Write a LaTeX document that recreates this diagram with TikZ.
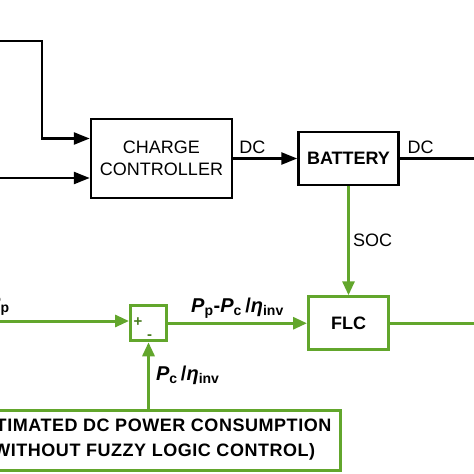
\documentclass[tikz,border=0pt]{standalone}
\usepackage{fontspec}
\setmainfont{Liberation Sans}
\usetikzlibrary{arrows.meta,positioning}
\definecolor{flcgreen}{RGB}{98,166,44}

\begin{document}
\begin{tikzpicture}[
	x=1pt, y=-1pt,
	blackbox/.style={
		rectangle,
		draw=black,
		line width=2.5pt,
		inner sep=0pt,
		align=center,
		font=\fontsize{18}{22}\selectfont},
	greenbox/.style={
		rectangle,
		draw=flcgreen,
		line width=3pt,
		inner sep=0pt,
		align=center,
		font=\fontsize{18}{25}\selectfont},
	blackarrow/.style={line width=2.5pt,-{Triangle[length=16pt,width=12pt]}},
	greenline/.style={draw=flcgreen,line width=3pt},
	greenarrow/.style={greenline,-{Triangle[length=14pt,width=12pt]}},
	lbl/.style={font=\fontsize{18}{20}\selectfont, inner sep=4pt},
	mathlbl/.style={font=\fontsize{20}{20}\selectfont\bfseries, inner sep=3pt},
	signlbl/.style={font=\fontsize{15}{15}\selectfont\bfseries, text=flcgreen!75!black, inner sep=0pt}
	]
	\useasboundingbox (0,0) rectangle (474,474);

	% upper chain
	\node[blackbox, minimum width=141pt, minimum height=79pt] (cc) at (161.5,158.5) {CHARGE\\CONTROLLER};
	\node[blackbox, font=\fontsize{18}{22}\selectfont\bfseries, minimum width=100pt, minimum height=53pt, right=64pt of cc] (bat) {BATTERY};

	% lower chain
	\node[greenbox, font=\fontsize{18}{22}\selectfont\bfseries, minimum width=80pt, minimum height=53pt, below=109pt of bat] (flc) {FLC};
	\node[greenbox, minimum width=36pt, minimum height=35pt, left=139pt of flc] (sum) {};
	\node[greenbox, font=\fontsize{18}{25}\selectfont\bfseries\addfontfeature{LetterSpace=3}, minimum width=378pt, minimum height=60pt] (est) at (151,440) {ESTIMATED DC POWER CONSUMPTION\\(WITHOUT FUZZY LOGIC CONTROL)};
	\node[signlbl] (plus) at ([xshift=9pt,yshift=1pt]sum.west) {+};
	\node[signlbl] (minus) at ([xshift=1pt,yshift=5pt]sum.south) {-};

	% free ends
	\coordinate (in1) at (-10,41);
	\coordinate (in2) at (-10,178);
	\coordinate (in3) at (-10,321);
	\coordinate (out1) at (490,158.5);
	\coordinate (out2) at (490,321);

	\draw[blackarrow] (in1) -| ([xshift=-48pt,yshift=20pt]cc.west) -- ([yshift=20pt]cc.west);
	\draw[blackarrow] (in2) -- (in2 -| cc.west);
	\draw[blackarrow] (cc) -- node[lbl,above,pos=0.3] {DC} (bat);
	\draw[blackarrow] (bat) -- node[lbl,above,pos=0.23] {DC} (out1);

	\draw[greenarrow] (bat) -- node[lbl,right,inner sep=3pt] {SOC} (flc);
	\draw[greenline] (flc) -- (flc -| out2);
	\draw[greenarrow] (in3) -- (in3 -| sum.west);
	\node[mathlbl, anchor=base west, inner sep=0pt] (pplab) at (-13,309) {\textit{P}\textsubscript{p}};
	\draw[greenarrow] (sum) -- node[mathlbl,above] {\textit{P}\textsubscript{p}-\textit{P}\textsubscript{c}\,/\textit{η}\textsubscript{inv}} (flc);
	\draw[greenarrow] (sum.south |- est.north) -- node[mathlbl,right,inner sep=6pt] {\textit{P}\textsubscript{c}\,/\textit{η}\textsubscript{inv}} (sum.south);
\end{tikzpicture}
\end{document}
